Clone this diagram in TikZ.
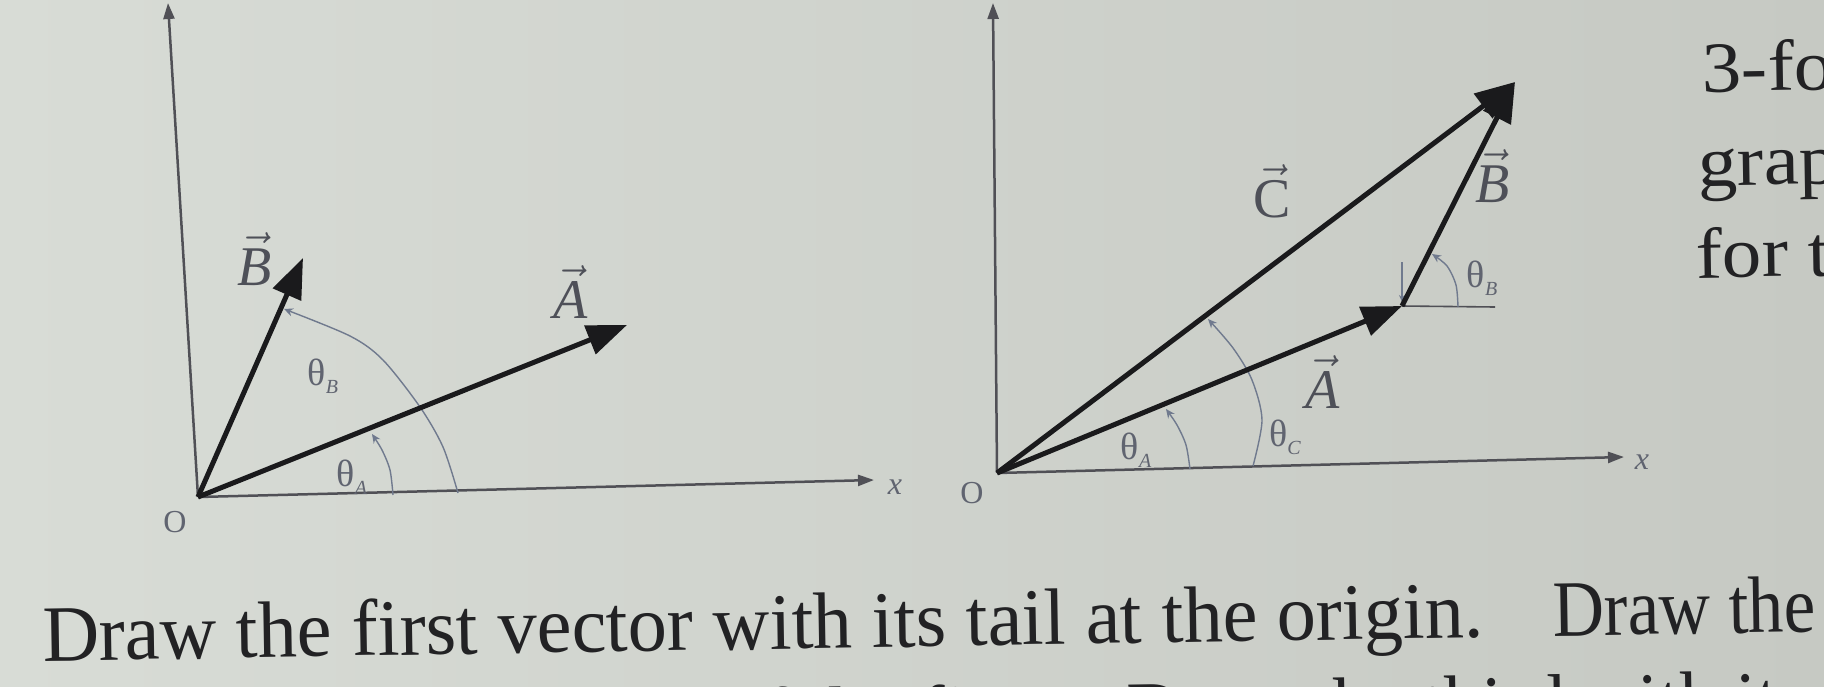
\documentclass[tikz,border=0pt]{standalone}
\usepackage{fix-cm}
\usepackage{fontspec}
\setmainfont{Liberation Serif}
\usetikzlibrary{arrows.meta}
\definecolor{paperL}{RGB}{216,220,214}
\definecolor{paperR}{RGB}{198,201,195}
\definecolor{ink}{RGB}{26,26,28}
\definecolor{axisc}{RGB}{80,80,86}
\definecolor{arcc}{RGB}{112,122,142}
\definecolor{lblc}{RGB}{96,100,112}
\definecolor{vlabc}{RGB}{78,80,88}
\definecolor{textc}{RGB}{34,34,36}
\newcommand{\vlab}[1]{\ensuremath{\vec{\mbox{\itshape #1}}}}
\newcommand{\vlabup}[1]{\ensuremath{\vec{\mbox{#1}}}}
\newcommand{\thlab}[1]{θ\raisebox{-0.22em}{\fontsize{20}{20}\selectfont\itshape #1}}
\begin{document}
\begin{tikzpicture}[x=1pt,y=-1pt,
  vecsty/.style={line width=5pt, draw=ink, -{Triangle[length=40pt,width=30pt]}},
  axissty/.style={line width=2.5pt, draw=axisc, -{Triangle[length=16pt,width=11pt]}},
  angarc/.style={line width=1.4pt, draw=arcc, -{Stealth[length=9pt,width=8pt]}},
  refline/.style={line width=1.6pt, draw=axisc},
  vlabel/.style={font=\fontsize{56}{60}\selectfont, text=vlabc, inner sep=0pt, anchor=base},
  thlabel/.style={font=\fontsize{38}{40}\selectfont, text=lblc, inner sep=0pt},
  smalllabel/.style={font=\fontsize{32}{34}\selectfont, text=lblc, inner sep=0pt},
  bodytext/.style={font=\fontsize{80}{90}\selectfont, text=textc, inner sep=0pt, rotate=0.94},
  sidetext/.style={font=\fontsize{72}{80}\selectfont, text=textc, inner sep=0pt, rotate=0.94, xscale=1.1, anchor=base west}]
\useasboundingbox (0,0) rectangle (1824,686);
\clip (0,0) rectangle (1824,686);
\shade[left color=paperL, right color=paperR] (0,0) rectangle (1824,686);

% ---------- left diagram ----------
\coordinate (O1) at (198,497);
\coordinate (Y1) at (168,3);
\coordinate (X1) at (874,480);
\coordinate (A1) at (627,325);
\coordinate (B1) at (303,258);
\draw[axissty] (O1) -- (Y1);
\draw[axissty] (O1) -- (X1);
\draw[angarc] plot[smooth] coordinates {(458,493) (443,447) (420,407) (383,360) (350,336) (284,309)};
\draw[angarc] plot[smooth] coordinates {(393,495) (390,470) (382,450) (372,434)};
\draw[vecsty] (O1) -- (A1);
\draw[vecsty] (O1) -- (B1);
\node[vlabel] (lA1) at (571,318) {\vlab{A}};
\node[vlabel] (lB1) at (255,285) {\vlab{B}};
\node[thlabel] (tB1) at (323,376) {\thlab{B}};
\node[thlabel] (tA1) at (352,477) {\thlab{A}};
\node[smalllabel] (o1) at (175,522) {O};
\node[smalllabel] (x1) at (895,487) {\itshape x};

% ---------- right diagram ----------
\coordinate (O2) at (997,473);
\coordinate (Y2) at (993,3);
\coordinate (X2) at (1624,457);
\coordinate (A2) at (1402,306);
\coordinate (B2) at (1515,82);
\coordinate (H2) at (1495,307);
\coordinate (T1) at (1402,262);
\coordinate (T2) at (1402,302);
\draw[axissty] (O2) -- (Y2);
\draw[axissty] (O2) -- (X2);
\draw[refline] (A2) -- (H2);
\draw[angarc, line width=1.1pt, -{Stealth[length=7pt,width=6pt]}] (T1) -- (T2);
\draw[angarc] plot[smooth] coordinates {(1190,469) (1186,445) (1177,425) (1166,409)};
\draw[angarc] plot[smooth] coordinates {(1253,466) (1262,420) (1252,380) (1233,348) (1208,319)};
\draw[angarc] plot[smooth] coordinates {(1458,307) (1456,285) (1447,266) (1432,254)};
\draw[vecsty] (O2) -- (A2);
\draw[vecsty] (A2) -- (B2);
\draw[vecsty] (O2) -- (B2);
\node[vlabel] (lC2) at (1272,217) {\vlabup{C}};
\node[vlabel] (lB2) at (1493,202) {\vlab{B}};
\node[vlabel] (lA2) at (1323,408) {\vlab{A}};
\node[thlabel] (tA2) at (1136,450) {\thlab{A}};
\node[thlabel] (tC2) at (1285,437) {\thlab{C}};
\node[thlabel] (tB2) at (1482,278) {\thlab{B}};
\node[smalllabel] (o2) at (972,493) {O};
\node[smalllabel] (x2) at (1642,462) {\itshape x};

% ---------- page text ----------
\node[sidetext] (r1) at (1702,92) {3-fo};
\node[sidetext] (r2) at (1698,186) {grap};
\node[sidetext] (r3) at (1696,278) {for t};
\node[bodytext, anchor=base west, xscale=0.98] (l1a) at (43,661) {Draw the first vector with its tail at the origin.};
\node[bodytext, anchor=base west, xscale=0.89] (l1b) at (1553,636) {Draw the};
\node[bodytext, anchor=base east, xscale=0.96] (l2a) at (1064,739) {the tip of the first.};
\node[bodytext, anchor=base west, xscale=0.94] (l2b) at (1127,737) {Draw the third with its tail};
\end{tikzpicture}
\end{document}
